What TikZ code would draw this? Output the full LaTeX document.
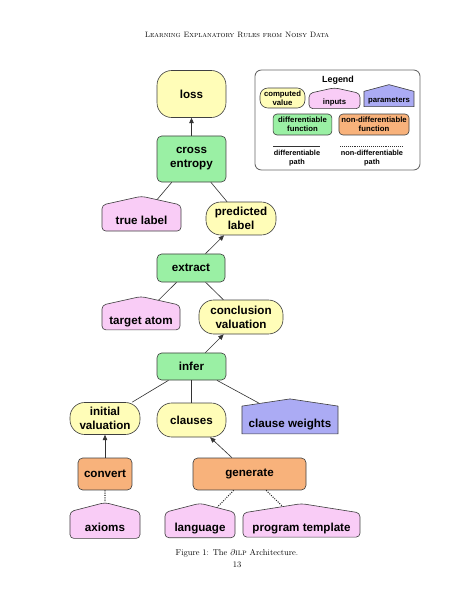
\documentclass[tikz,border=0pt]{standalone}
\usepackage{fontspec}
\newfontfamily\helv{Liberation Sans}
\usetikzlibrary{arrows.meta,shapes.symbols}

\definecolor{valfill}{HTML}{FFFDB8}
\definecolor{inpfill}{HTML}{F9CCF6}
\definecolor{parfill}{HTML}{ABABF4}
\definecolor{difffill}{HTML}{9AF0A4}
\definecolor{nondifffill}{HTML}{F8B27B}

\tikzset{
  box/.style={draw=black!75, line width=0.8pt, inner sep=0pt, align=center,
    font=\helv\bfseries\fontsize{15}{18}\selectfont},
  value/.style={box, fill=valfill, rounded corners=19pt},
  difffn/.style={box, fill=difffill, rounded corners=6pt},
  nondifffn/.style={box, fill=nondifffill, rounded corners=6pt},
  inputs/.style={box, signal, signal to=north, signal pointer angle=155,
    fill=inpfill, rounded corners=5pt, text height=18pt, text depth=0pt},
  params/.style={box, signal, signal to=north, signal pointer angle=163,
    fill=parfill, text height=20pt, text depth=0pt},
  legitem/.style={font=\helv\bfseries\fontsize{10}{12}\selectfont},
  con/.style={draw=black!80, line width=0.8pt},
  arr/.style={con, -{Triangle[length=7pt,width=6pt]}},
  dots/.style={con, draw=black!85, line width=1.3pt, dash pattern=on 1.3pt off 1.7pt}
}

\begin{document}
\begin{tikzpicture}[x=1.2911pt, y=-1.2911pt]
		\useasboundingbox (0,0) rectangle (474,613);
		
		%%%%% PAGE TEXT %%%%%
		\node (header) at (237,35) {\fontsize{10}{12}\selectfont\scshape Learning Explanatory Rules from Noisy Data};
		\node (caption) at (237,553) {\fontsize{10.95}{13}\selectfont Figure 1: The $\partial${\scshape ilp} Architecture.};
		\node (page) at (237,565) {\fontsize{10.95}{13}\selectfont 13};
		
		%%%%% NODES %%%%%
		\node[value, minimum width=89pt, minimum height=60.7pt] (loss) at (191.5,94) {loss};
		\node[difffn, minimum width=89pt, minimum height=59.4pt] (ce) at (191.5,159) {cross\\entropy};
		\node[inputs, minimum width=102pt, minimum height=41pt] (tl) at (141.5,218) {true label};
		\node[value, minimum width=90.4pt, minimum height=42.6pt] (pl) at (241,218.5) {predicted\\label};
		
		\node[difffn, minimum width=87.8pt, minimum height=36.2pt] (ex) at (191,268) {extract};
		\node[inputs, minimum width=100.7pt, minimum height=41pt] (ta) at (141,317.5) {target atom};
		\node[value, minimum width=108.5pt, minimum height=43.9pt] (cv) at (241,317) {conclusion\\valuation};
		
		\node[difffn, minimum width=89pt, minimum height=34.9pt] (in) at (191.5,366.5) {infer};
		\node[value, minimum width=90.4pt, minimum height=41.3pt] (iv) at (105,418.5) {initial\\valuation};
		\node[value, minimum width=89pt, minimum height=43.9pt] (cl) at (191.5,420) {clauses};
		\node[params, minimum width=124pt, minimum height=43.9pt] (cw) at (290,420) {clause weights};
		
		\node[nondifffn, minimum width=69.7pt, minimum height=41.3pt] (co) at (105,474) {convert};
		\node[nondifffn, minimum width=145.9pt, minimum height=41.3pt] (ge) at (249.5,474) {generate};
		
		\node[inputs, signal pointer angle=151, minimum width=90.4pt, minimum height=41.3pt] (ax) at (105,525) {axioms};
		\node[inputs, signal pointer angle=151, minimum width=90.4pt, minimum height=41.3pt] (la) at (200,525) {language};
		\node[inputs, signal pointer angle=162, minimum width=151pt, minimum height=41.3pt] (pt) at (301.5,525) {program template};
		
		%%%%% CONNECTORS %%%%%
		\draw[arr] (ce) -- (loss);
		\draw[con] (ce) -- (tl);
		\draw[con] (ce) -- (pl);
		\draw[arr] (ex) -- (pl);
		\draw[con] (ex) -- (ta);
		\draw[con] (ex) -- (cv);
		\draw[arr] (in) -- (cv);
		\draw[con] (in) -- (iv);
		\draw[con] (in) -- (cl);
		\draw[con] (in) -- (cw);
		\draw[arr] (co) -- (iv);
		\draw[arr] (ge) -- (cl);
		\draw[dots] (co) -- (ax);
		\draw[dots] (ge) -- (la);
		\draw[dots] (ge) -- (pt);
		
		%%%%% LEGEND %%%%%
		\node[draw=black!60, line width=1.1pt, fill=white, rounded corners=8pt,
		  minimum width=213pt, minimum height=129pt] (legend) at (337.5,120) {};
		\node[legitem, font=\helv\bfseries\fontsize{11.5}{13}\selectfont] (legtitle) at (338,80) {Legend};
		\node[value, legitem, rounded corners=10pt, minimum width=58pt, minimum height=25.8pt] (lcv) at (282.5,98) {computed\\value};
		\node[inputs, legitem, signal pointer angle=155, text height=9pt, minimum width=65.8pt, minimum height=23pt] (lin) at (334.5,101) {inputs};
		\node[params, legitem, signal pointer angle=150, text height=9pt, minimum width=64.5pt, minimum height=27pt] (lpa) at (389,99) {parameters};
		\node[difffn, legitem, rounded corners=5pt, minimum width=76pt, minimum height=27pt] (ldf) at (302.5,124.5) {differentiable\\function};
		\node[nondifffn, legitem, rounded corners=5pt, minimum width=90.4pt, minimum height=27pt] (lnf) at (374,124.5) {non-differentiable\\function};
		
		\coordinate (ds1) at (273,146);
		\coordinate (ds2) at (320,146);
		\coordinate (ns1) at (340,146);
		\coordinate (ns2) at (402,146);
		\draw[con] (ds1) -- (ds2);
		\draw[con, line width=0.7pt, dash pattern=on 0.7pt off 1.8pt] (ns1) -- (ns2);
		\node[legitem, align=center, font=\helv\bfseries\fontsize{9.5}{11.6}\selectfont] (ldp) at (297,158.5) {differentiable\\path};
		\node[legitem, align=center, font=\helv\bfseries\fontsize{9.5}{11.6}\selectfont] (lnp) at (372,158.5) {non-differentiable\\path};
		
	\end{tikzpicture}
\end{document}
